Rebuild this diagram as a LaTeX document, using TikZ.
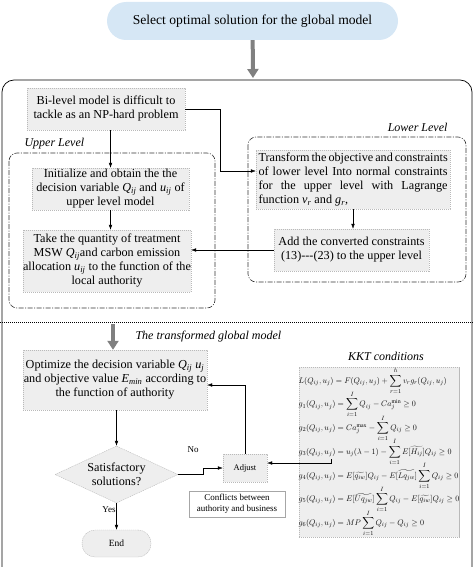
\documentclass[tikz,border=0pt]{standalone}
\usepackage{amsmath,amssymb}
\usepackage{graphicx}
\usepackage{fontspec}
\setmainfont{Liberation Serif}
\usetikzlibrary{shapes.geometric,arrows.meta}
\definecolor{pillblue}{HTML}{D6E7F5}
\definecolor{boxgray}{HTML}{EEEEEE}
\tikzset{
  box/.style={draw=gray!55, dash pattern=on 1.2pt off 0.8pt, fill=boxgray,
    align=center, inner sep=0pt, font=\fontsize{12.2}{14}\selectfont},
  lvl/.style={draw=black!80, dash pattern=on 5pt off 1.5pt on 1pt off 1.5pt,
    rounded corners=8pt, line width=0.6pt},
  lbl/.style={font=\fontsize{12}{14}\selectfont\itshape},
  fat/.style={draw=gray, line width=4pt, -{Triangle[length=9pt,width=11pt]}},
  small/.style={font=\fontsize{9}{11}\selectfont},
}
\begin{document}
\begin{tikzpicture}[x=1pt,y=-1pt,>={Latex[length=5pt,width=3.6pt]}]
  \useasboundingbox (0,0) rectangle (474,567);
  \clip (0,0) rectangle (474,567);
  % frames
  \draw[rounded corners=12pt, line width=0.7pt] (2,80) rectangle (472,600);
  \draw[lvl] (9,153) rectangle (215,308);
  \draw[lvl] (248,137) rectangle (466,282);
  \draw[dash pattern=on 1pt off 1pt, line width=0.9pt] (0,322) -- (474,322);
  \coordinate (frametop) at (253,78);
  \coordinate (sep) at (113,324);
  \coordinate (kktin) at (331,459);
  % nodes
  \draw
    (252.5,21) node[fill=pillblue, rounded corners=19pt, minimum width=291pt,
      minimum height=38pt, font=\fontsize{13.6}{15}\selectfont] (sel)
      {Select optimal solution for the global model}
    (106,109) node[box, minimum width=158pt, minimum height=42pt] (bilevel)
      {Bi-level model is difficult to\\tackle as an NP-hard problem}
    (110.5,189) node[box, minimum width=157pt, minimum height=42pt] (init)
      {Initialize and obtain the the\\decision variable \textit{Q\textsubscript{ij}} and \textit{u\textsubscript{ij}} of\\upper level model}
    (107,261) node[box, minimum width=158pt, minimum height=62pt] (take)
      {Take the quantity of treatment\\MSW \textit{Q\textsubscript{ij}}and carbon emission\\allocation \textit{u\textsubscript{ij}} to the function of the\\local authority}
    (353,179.5) node[box, minimum width=194pt, minimum height=59pt, align=left] (trans)
      {\makebox[189pt][s]{Transform the objective and constraints}\\
       \makebox[189pt][s]{of lower level Into normal constraints}\\
       \makebox[189pt][s]{for the upper level with Lagrange}\\
       function \textit{v\textsubscript{r}} and \textit{g\textsubscript{r}},}
    (351.5,250) node[box, minimum width=155pt, minimum height=42pt] (add)
      {Add the converted constraints\\(13){-}{-}{-}(23) to the upper level}
    (115,380) node[box, minimum width=184pt, minimum height=60pt] (opt)
      {Optimize the decision variable \textit{Q\textsubscript{ij} u\textsubscript{j}}\\and objective value \textit{E\textsubscript{min}} according to\\the function of authority}
    (116.5,474.5) node[box, shape=diamond, aspect=2.16, minimum width=123pt,
      minimum height=57pt] (sat) {Satisfactory\\solutions?}
    (116.5,543.5) node[box, rounded corners=13pt, minimum width=69pt,
      minimum height=27pt, font=\fontsize{9.5}{11}\selectfont] (end) {End}
    (245,468) node[box, minimum width=44pt, minimum height=28pt,
      font=\fontsize{8.5}{10}\selectfont] (adj) {Adjust}
    (237,504) node[draw=gray!70, fill=white, small, align=center, minimum width=96pt,
      minimum height=26pt] (conf) {Conflicts between\\authority and business}
    (379,452) node[box, minimum width=158pt, minimum height=170pt] (kkt)
      {\scalebox{0.68}{\vbox{\baselineskip=34.9pt\lineskiplimit=-30pt
       \hbox{$\displaystyle L(Q_{ij},u_j)=F(Q_{ij},u_j)+\sum_{r=1}^{h}v_r g_r(Q_{ij},u_j)$}
       \hbox{$\displaystyle g_1(Q_{ij},u_j)=\sum_{i=1}^{I}Q_{ij}-Ca_j^{\min}\geq 0$}
       \hbox{$\displaystyle g_2(Q_{ij},u_j)=Ca_j^{\max}-\sum_{i=1}^{I}Q_{ij}\geq 0$}
       \hbox{$\displaystyle g_3(Q_{ij},u_j)=u_j(\lambda-1)-\sum_{i=1}^{I}E[\widetilde{H_{ij}}]Q_{ij}\geq 0$}
       \hbox{$\displaystyle g_4(Q_{ij},u_j)=E[\widetilde{q_{iw}}]Q_{ij}-E[\widetilde{Lq_{jw}}]\sum_{i=1}^{I}Q_{ij}\geq 0$}
       \hbox{$\displaystyle g_5(Q_{ij},u_j)=E[\widetilde{Uq_{jw}}]\sum_{i=1}^{I}Q_{ij}-E[\widetilde{q_{iw}}]Q_{ij}\geq 0$}
       \hbox{$\displaystyle g_6(Q_{ij},u_j)=MP\sum_{i=1}^{I}Q_{ij}-Q_{ij}\geq 0$}}}};
  % labels
  \node[lbl, anchor=west] (uplbl) at (21,144) {Upper Level};
  \node[lbl, anchor=east] (lowlbl) at (451,127) {Lower Level};
  \node[lbl, anchor=west] (glbl) at (132,337) {The transformed global model};
  \node[lbl] (kktlbl) at (386,356) {KKT conditions};
  \node[small] (no) at (193,450) {No};
  \node[small] (yes) at (109,510) {Yes};
  % connectors
  \draw[fat] (sel) -- (frametop);
  \draw[fat] (sep) -- (sep |- opt.north);
  \begin{scope}[->]
    \draw (bilevel.south -| init.north) -- (init.north);
    \draw (init.south) -- (init.south |- take.north);
    \draw (bilevel.east) -- ++(35,0) |- ([yshift=8.5pt]trans.west);
    \draw (trans.south) -- (trans.south |- add.north);
    \draw (add.west) -- (add.west -| take.east);
    \draw (opt.south -| sat.north) -- (sat.north);
    \draw (sat.south) -- (end.north);
    \draw (sat.east) -- ++(25,0) |- (adj.west);
    \draw (adj.north) |- ([yshift=-5pt]opt.east);
    \draw (kktin) |- ([yshift=5pt]adj.east);
  \end{scope}
\end{tikzpicture}
\end{document}
